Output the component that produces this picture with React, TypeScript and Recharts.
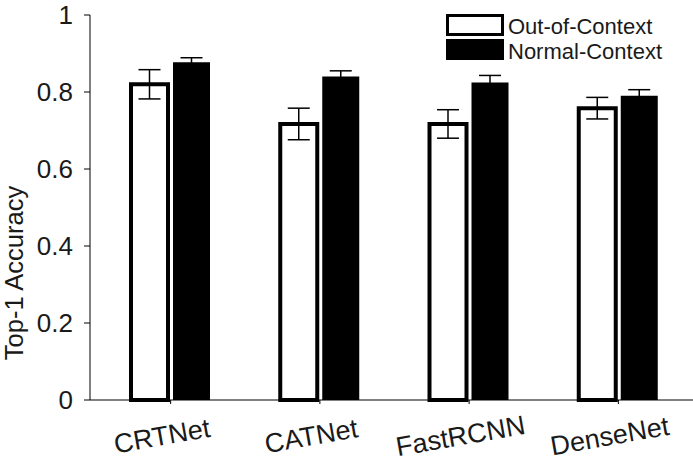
import { Bar, BarChart, ErrorBar, Legend, XAxis, YAxis } from "recharts";

const models = ["CRTNet", "CATNet", "FastRCNN", "DenseNet"];
const outOfContext = [0.82, 0.717, 0.717, 0.758];
const outOfContextErr = [0.038, 0.041, 0.037, 0.028];
const normalContext = [0.877, 0.84, 0.825, 0.79];
const normalContextErr = [0.012, 0.015, 0.018, 0.016];
const yTicks = [0, 0.2, 0.4, 0.6, 0.8, 1];

const FONT = '"Liberation Sans", Arial, sans-serif';
const TEXT = "#1a1a1a";

const data = models.map((name, i) => ({
  name,
  out: outOfContext[i],
  outErr: outOfContextErr[i],
  normal: normalContext[i],
  normalErr: normalContextErr[i],
}));

function XTick({ x, payload }: any) {
  return (
    <g transform={`translate(${x - 7},445)`}>
      <text
        transform="rotate(-10)"
        textAnchor="middle"
        fontSize={27}
        fontFamily={FONT}
        fill={TEXT}
      >
        {payload.value}
      </text>
    </g>
  );
}

function renderLegend() {
  return (
    <svg width={245} height={52}>
      <rect x={3.5} y={3.5} width={55} height={19} fill="#fff" stroke="#000" strokeWidth={3} />
      <text x={64} y={21.5} fontSize={22} fontFamily={FONT} fill={TEXT}>
        Out-of-Context
      </text>
      <rect x={2} y={27} width={58} height={21} fill="#000" />
      <text x={64} y={46.5} fontSize={22} fontFamily={FONT} fill={TEXT}>
        Normal-Context
      </text>
    </svg>
  );
}

export default function App() {
  return (
    <div style={{ position: "absolute", left: 0, top: 0, background: "#fff" }}>
      <BarChart
        width={693}
        height={457}
        data={data}
        margin={{ top: 15, right: 0, left: 0, bottom: 0 }}
        barSize={37}
        barGap={5}
      >
        <XAxis
          dataKey="name"
          height={57}
          padding={{ left: 6, right: 0 }}
          axisLine={{ stroke: "#000" }}
          tickLine={{ stroke: "#000" }}
          tickSize={4}
          tick={<XTick />}
        />
        <YAxis
          width={90}
          domain={[0, 1]}
          ticks={yTicks}
          tickFormatter={(v: number) => String(v)}
          axisLine={{ stroke: "#000" }}
          tickLine={{ stroke: "#000" }}
          tickSize={6}
          tickMargin={11}
          tick={{ fontSize: 26, fontFamily: FONT, fill: TEXT }}
          label={() => (
            <text
              x={23}
              y={273}
              transform="rotate(-90 23 273)"
              textAnchor="middle"
              fontSize={25.5}
              fontFamily={FONT}
              fill={TEXT}
            >
              Top-1 Accuracy
            </text>
          )}
        />
        <Legend
          layout="vertical"
          align="center"
          verticalAlign="middle"
          content={renderLegend}
          wrapperStyle={{ position: "absolute", top: 12, left: 444, width: 245 }}
        />
        <Bar dataKey="out" fill="#fff" stroke="#000" strokeWidth={4} isAnimationActive={false}>
          <ErrorBar dataKey="outErr" width={11} stroke="#000" strokeWidth={1.5} direction="y" />
        </Bar>
        <Bar dataKey="normal" fill="#000" isAnimationActive={false}>
          <ErrorBar dataKey="normalErr" width={11} stroke="#000" strokeWidth={1.5} direction="y" />
        </Bar>
      </BarChart>
    </div>
  );
}
